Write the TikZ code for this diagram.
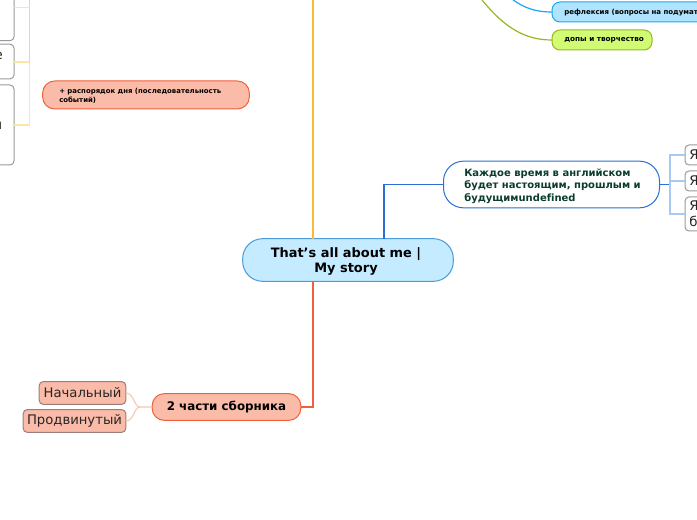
\documentclass[tikz,border=0pt]{standalone}
\usepackage{fontspec}
\setmainfont[Ligatures=NoCommon]{DejaVu Sans}
\definecolor{rootfill}{HTML}{C4EBFF}
\definecolor{rootline}{HTML}{4A9BD8}
\definecolor{salmon}{HTML}{FABBA8}
\definecolor{redline}{HTML}{F0603A}
\definecolor{orangeline}{HTML}{FBB93C}
\definecolor{lightorange}{HTML}{FFD27F}
\definecolor{paleorange}{HTML}{FFE3A8}
\definecolor{blueline}{HTML}{2C6FD6}
\definecolor{lightblue}{HTML}{A6CBF2}
\definecolor{skyfill}{HTML}{B0E4FE}
\definecolor{skyline}{HTML}{1AA7EE}
\definecolor{limefill}{HTML}{D2FB74}
\definecolor{limeline}{HTML}{94B81E}
\definecolor{darkgreen}{HTML}{0B3D2E}
\definecolor{greyline}{HTML}{9A9A9A}
\definecolor{brownline}{HTML}{9A7F78}
\definecolor{palered}{HTML}{FBC4B4}
\tikzset{
  x=0.75pt,y=-0.75pt,
  box/.style={rectangle,inner sep=0pt,outer sep=0pt,line width=0.75pt},
  rootbox/.style={box,draw=rootline,fill=rootfill,rounded corners=15pt,minimum width=158pt,minimum height=32pt},
  pill/.style={box,rounded corners=7.5pt,font=\bfseries\fontsize{5.2}{7}\selectfont,text=black},
  leaf/.style={box,draw=greyline,fill=white,rounded corners=3pt,font=\fontsize{10}{13}\selectfont,text=black!85},
  redleaf/.style={box,draw=brownline,fill=salmon,rounded corners=3pt,font=\fontsize{9.9}{13}\selectfont,text=black!85},
  conn/.style={line width=0.9pt},
  thin conn/.style={line width=0.85pt},
}
\begin{document}
\begin{tikzpicture}
\useasboundingbox (0,0) rectangle (697,520);
\clip (0,0) rectangle (697,520);
% nodes
\node[rootbox] (root) at (348,260) {};
\node[inner sep=0pt,align=center,text=black,font=\bfseries\fontsize{9.7}{10.6}\selectfont] (roottext) at (346,261.5) {That\symbol{39}s all about me |\\My story};
\node[pill,draw=redline,fill=salmon,minimum width=111.5pt,minimum height=20pt,rounded corners=9pt,font=\bfseries\fontsize{8.9}{10}\selectfont] (parts) at (226.5,407) {2 части сборника};
\node[redleaf,minimum width=65pt,minimum height=17pt] (begin) at (82.5,393) {Начальный};
\node[redleaf,minimum width=77pt,minimum height=17pt] (adv) at (74.5,421) {Продвинутый};
\node[pill,draw=redline,fill=salmon,minimum width=155pt,minimum height=21pt,rounded corners=9pt] (plan) at (146,95) {};
\node[anchor=west,font=\bfseries\fontsize{5.2}{7}\selectfont,align=left,inner sep=0pt,text=black] (plantext) at (59,96) {+ распорядок дня (последовательность\\событий)};
\node[box,draw=blueline,fill=white,minimum width=162pt,minimum height=35pt,rounded corners=15pt] (tense) at (551.5,184.5) {};
\node[anchor=west,align=left,inner sep=0pt,text=darkgreen,font=\bfseries\fontsize{7.5}{9.3}\selectfont] (tensetext) at (464,186) {Каждое время в английском\\будет настоящим, прошлым и\\будущимundefined};
\node[box,draw=skyline,fill=skyfill,minimum width=140pt,minimum height=15pt,rounded corners=6pt,anchor=west] (refl) at (552,12) {};
\node[anchor=west,inner sep=0pt,font=\bfseries\fontsize{5.25}{7}\selectfont,text=black] (refltext) at (564,12.5) {рефлексия (вопросы на подумать)};
\node[box,draw=limeline,fill=limefill,minimum width=75pt,minimum height=15pt,rounded corners=6pt] (extras) at (602,40) {};
\node[anchor=west,inner sep=0pt,font=\bfseries\fontsize{5.45}{7}\selectfont,text=black] (extrastext) at (564,40.5) {допы и творчество};
\node[leaf,minimum width=30pt,minimum height=15pt,anchor=west] (ya1) at (685,155) {};
\node[anchor=west,inner sep=0pt,font=\fontsize{10}{13}\selectfont,text=black!85] (ya1t) at (689,155) {Я};
\node[leaf,minimum width=30pt,minimum height=15pt,anchor=west] (ya2) at (685,181) {};
\node[anchor=west,inner sep=0pt,font=\fontsize{10}{13}\selectfont,text=black!85] (ya2t) at (689,181) {Я};
\node[leaf,minimum width=30pt,minimum height=25.5pt,anchor=west] (ya3) at (685,214) {};
\node[anchor=west,inner sep=0pt,align=left,font=\fontsize{10}{12}\selectfont,text=black!85] (ya3t) at (689,214) {Я\\б};
\node[leaf,minimum width=30pt,minimum height=40pt,anchor=east] (l1) at (14,14) {};
\node[leaf,minimum width=30pt,minimum height=26pt,anchor=east] (l2) at (14,61.5) {};
\node[anchor=east,inner sep=0pt,font=\fontsize{10}{13}\selectfont,text=black!85] (l2t) at (3,56) {е};
\node[leaf,minimum width=30pt,minimum height=60pt,anchor=east] (l3) at (14,125) {};
\node[anchor=east,inner sep=0pt,font=\fontsize{10}{13}\selectfont,text=black!85] (l3t) at (2.5,126) {ы};
% free ends
\coordinate (topa) at (313,0);
\coordinate (treetop) at (29.5,0);
\coordinate (tree1) at (29.5,7.5);
\coordinate (tree2) at (29.5,62);
\coordinate (tree3) at (29.5,125);
\coordinate (rlh) at (670,184.5);
\coordinate (pj) at (140,407);
\coordinate (reflend) at (513,0);
\coordinate (extend) at (482,0);
% connectors
\draw[conn,orangeline] (root.north -| topa) -- (topa);
\draw[conn,redline] (parts.east) -- (parts.east -| topa) -- (root.south -| topa);
\draw[conn,blueline,line width=1.1pt] (tense.west) -| (root.north -| 384,0);
\draw[conn,blueline] (tense.east) -- (rlh);
\draw[thin conn,lightblue] (ya1.west) -- (ya1.west -| rlh) -- (ya3.west -| rlh) -- (ya3.west);
\draw[thin conn,lightblue] (ya2.west) -- (ya2.west -| rlh);
\draw[thin conn,palered] (parts.west) -- (pj) .. controls (134,407) and (134,393) .. (begin.east);
\draw[thin conn,palered] (pj) .. controls (134,407) and (134,421) .. (adv.east);
\draw[conn,skyline] (refl.west) .. controls (535,12) and (525,8) .. (reflend);
\draw[conn,limeline] (extras.west) .. controls (525,40) and (505,28) .. (extend);
\draw[thin conn,lightorange] (treetop) -- (tree2);
\draw[thin conn,paleorange] (tree2) -- (tree3);
\draw[thin conn,paleorange] (l1.east |- tree1) -- (tree1);
\draw[thin conn,paleorange] (l2.east |- tree2) -- (tree2);
\draw[thin conn,paleorange] (l3.east |- tree3) -- (tree3);
\end{tikzpicture}
\end{document}
